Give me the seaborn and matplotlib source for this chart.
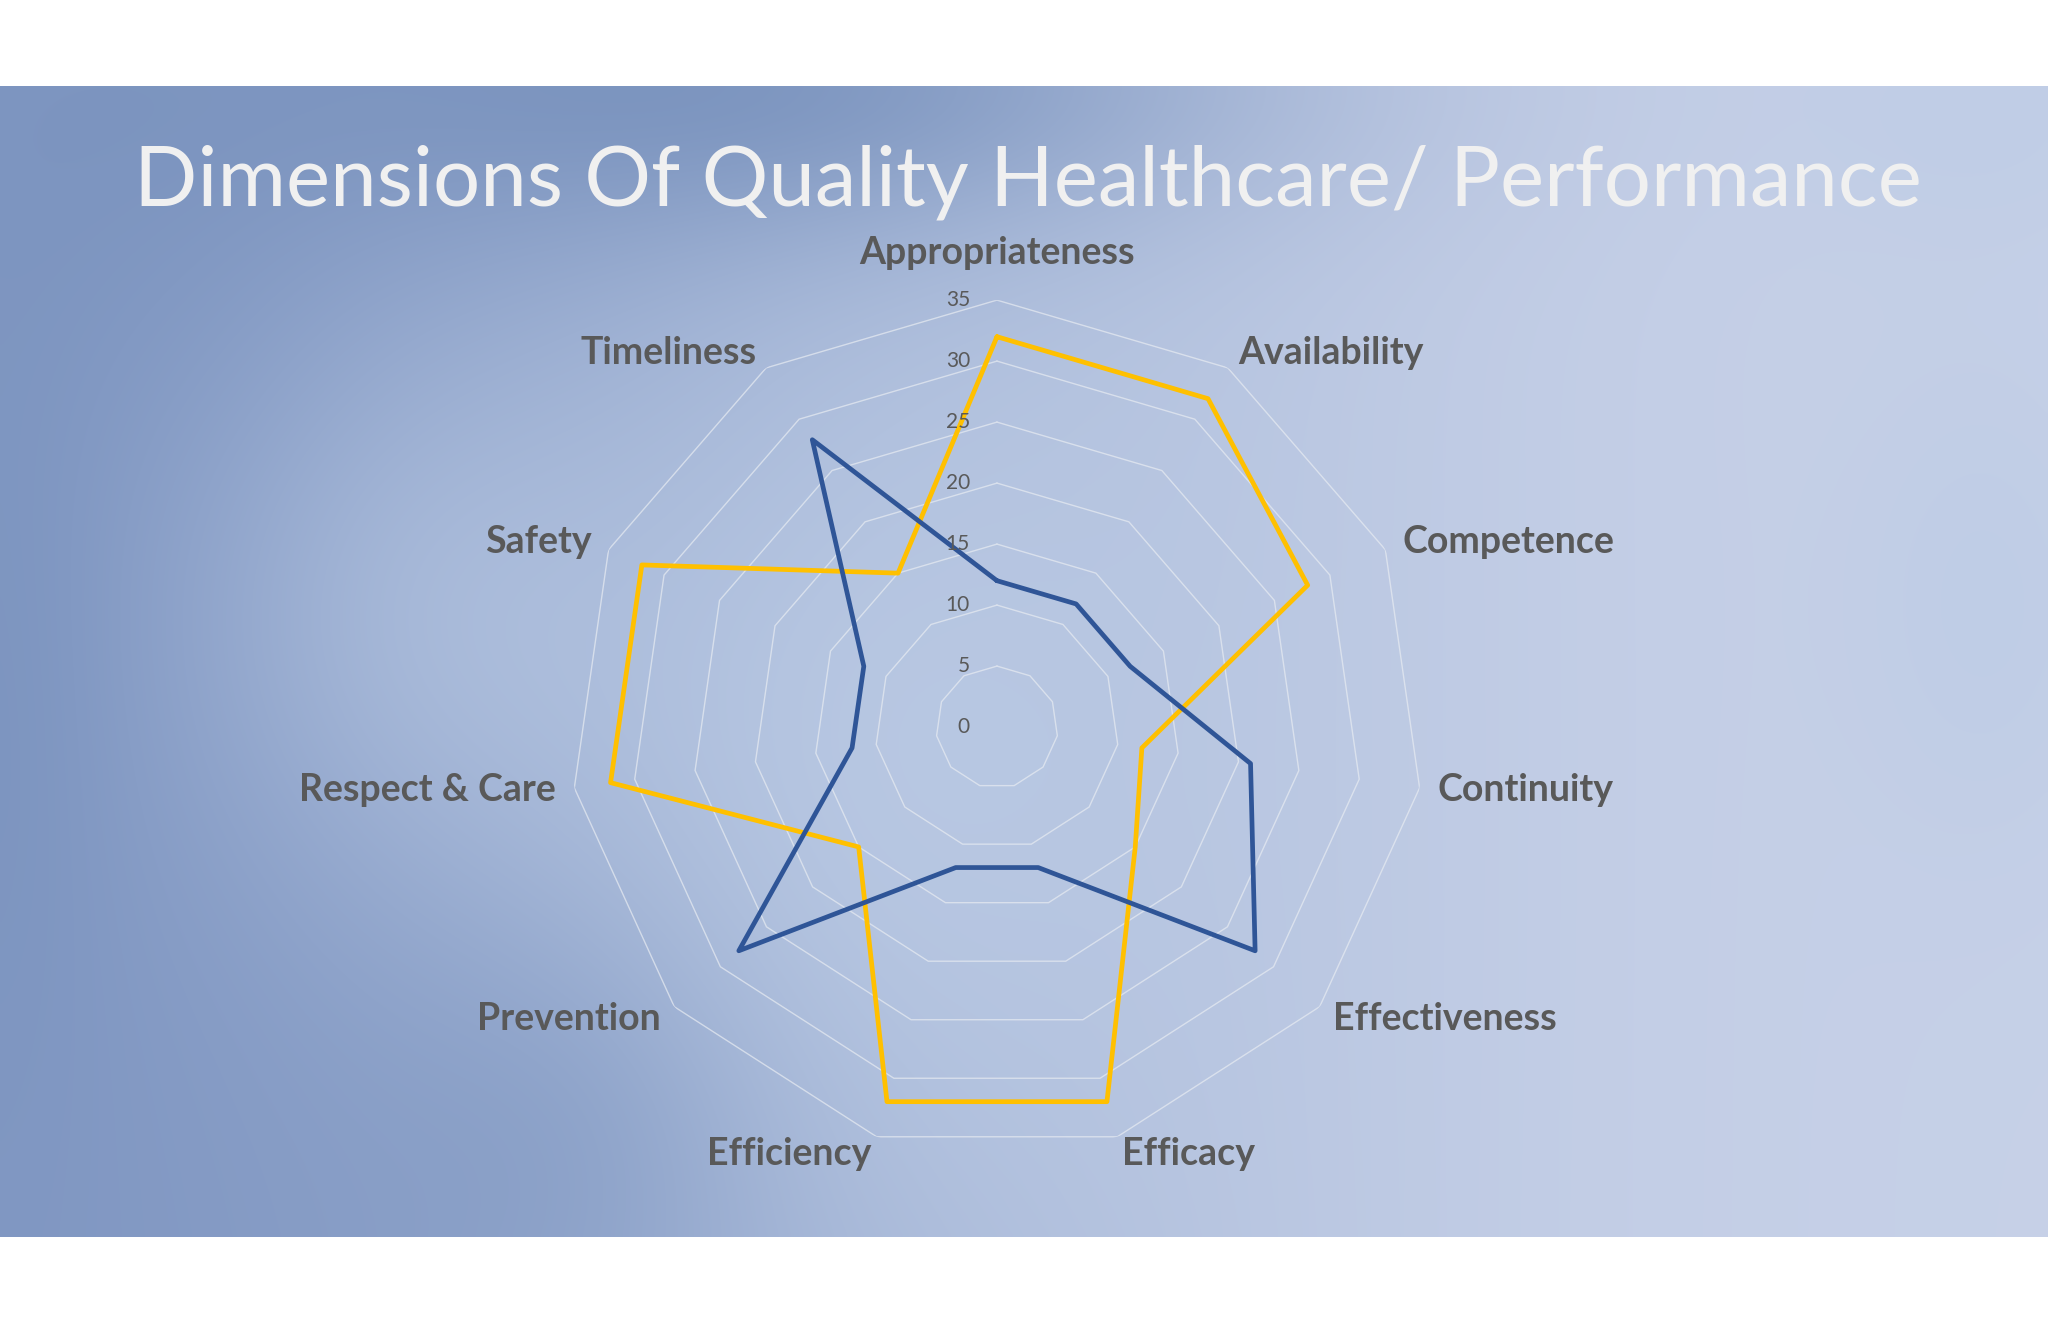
import numpy as np
import pandas as pd
import matplotlib.pyplot as plt
import matplotlib.transforms as mtransforms
import seaborn as sns

# values
categories = ["Appropriateness", "Availability", "Competence", "Continuity",
              "Effectiveness", "Efficacy", "Efficiency", "Prevention",
              "Respect & Care", "Safety", "Timeliness"]
yellow_vals = [32, 32, 28, 12, 15, 32, 32, 15, 32, 32, 15]
blue_vals = [12, 12, 12, 21, 28, 12, 12, 28, 12, 12, 28]
ring_levels = [0, 5, 10, 15, 20, 25, 30, 35]
title = "Dimensions Of Quality Healthcare/ Performance"

sns.set_style("white")
plt.rcParams['font.family'] = ['Lato', 'DejaVu Sans']

fig = plt.figure(figsize=(20.48, 13.25), dpi=100)
fig.patch.set_facecolor("white")

# cloudy blue slide background
bg = fig.add_axes([0, 0.0664, 1, 0.8687])
bg.set_axis_off()
ny, nx = 300, 600
yy, xx = np.mgrid[0:1:ny * 1j, 0:1:nx * 1j]
dark = np.array([0.50, 0.59, 0.76])
light = np.array([0.78, 0.82, 0.91])
t = 1 / (1 + np.exp(-(xx - 0.45) / 0.12))
img = dark[None, None, :] * (1 - t[..., None]) + light[None, None, :] * t[..., None]
def blob(cx, cy, sx, sy):
    return np.exp(-(((xx - cx) / sx) ** 2 + ((yy - cy) / sy) ** 2))
lift = 0.8 * blob(0.44, 0.58, 0.20, 0.50) + 0.7 * blob(0.97, 0.45, 0.07, 0.22) \
    + 0.4 * blob(0.20, 0.45, 0.12, 0.25) + 0.6 * blob(0.97, 0.02, 0.10, 0.12)
sink = 0.45 * blob(0.0, 0.55, 0.05, 0.35) + 0.35 * blob(0.27, 0.92, 0.10, 0.18) \
    + 0.85 * blob(0.33, 0.0, 0.26, 0.13) + 0.3 * blob(0.05, 0.1, 0.1, 0.2)
target_hi = np.array([0.74, 0.80, 0.90])
target_lo = np.array([0.47, 0.57, 0.74])
lift = np.clip(lift, 0, 1)[..., None]
sink = np.clip(sink, 0, 1)[..., None]
img = img * (1 - lift) + target_hi * lift
img = img * (1 - sink) + target_lo * sink
bg.imshow(np.clip(img, 0, 1), aspect='auto', extent=[0, 1, 0, 1], interpolation='bicubic')
bg.set_xlim(0, 1)
bg.set_ylim(0, 1)

# radar axes
ax = fig.add_axes([0.2783, 0.129, 0.417, 0.6445], projection='polar')
ax.patch.set_alpha(0)
ax.set_theta_zero_location('N')
ax.set_theta_direction(-1)
ax.set_ylim(0, 35)
ax.grid(False)
ax.spines['polar'].set_visible(False)
ax.set_xticks([])
ax.set_yticks([])

n = len(categories)
theta = np.arange(n) * 2 * np.pi / n
theta_closed = np.append(theta, 2 * np.pi)

for r in ring_levels[1:]:
    ax.plot(theta_closed, [r] * (n + 1), color='#e8ecf2', lw=1.0, alpha=0.7, zorder=1)

rows = []
for name, vals in [("S1", yellow_vals), ("S2", blue_vals)]:
    for th, v in zip(theta_closed, vals + vals[:1]):
        rows.append({"series": name, "theta": th, "value": v})
df = pd.DataFrame(rows)
sns.lineplot(data=df, x="theta", y="value", hue="series", sort=False, estimator=None,
             palette={"S1": "#ffc000", "S2": "#2f5597"}, linewidth=3.4,
             legend=False, ax=ax, zorder=3)
ax.set_xlabel("")
ax.set_ylabel("")
ax.set_ylim(0, 35)

# radial value labels
off = mtransforms.ScaledTranslation(-0.27, 0, fig.dpi_scale_trans)
for r in ring_levels:
    ax.text(0, r, str(r), ha='right', va='center', fontsize=15, color='#595959',
            transform=ax.transData + off, zorder=4)

# category labels
for th, name in zip(theta, categories):
    s = np.sin(th)
    if abs(s) < 0.1:
        ax.text(th, 38.9, name, ha='center', va='center', fontsize=27,
                fontweight='bold', color='#595959')
    else:
        ax.text(th, 36.5, name, ha='left' if s > 0 else 'right', va='center',
                fontsize=27, fontweight='bold', color='#595959')

fig.text(0.502, 0.845, title, ha='center', va='baseline', fontsize=60,
         fontweight='normal', color='#f0f0f0')

fig.savefig("out.png", dpi=100)
